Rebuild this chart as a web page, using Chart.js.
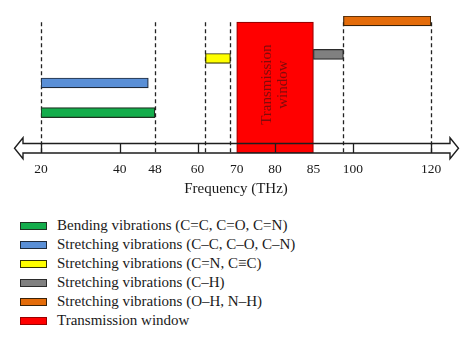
<!DOCTYPE html>
<html>
<head>
<meta charset="utf-8">
<script src="https://cdn.jsdelivr.net/npm/chart.js@4.4.1/dist/chart.umd.min.js"></script>
<style>
  html, body { margin: 0; padding: 0; background: #fff; }
  #wrap { position: relative; width: 474px; height: 346px; overflow: hidden; }
  #c { position: absolute; left: 0; top: 0; }
  #legend { position: absolute; left: 20px; top: 216px; margin: 0; padding: 0; list-style: none;
            font-family: "Liberation Serif", "DejaVu Serif", serif; font-size: 15px; color: #1a1a1a; }
  #legend li { height: 19px; line-height: 19px; display: flex; align-items: center; white-space: nowrap; }
  #legend .sw { display: inline-block; width: 27px; height: 8px; box-sizing: border-box;
                border: 1px solid #2a2a2a; margin-right: 10px; }
</style>
</head>
<body>
<div id="wrap">
  <canvas id="c" width="474" height="205"></canvas>
  <ul id="legend"></ul>
</div>
<script>
// ---------------- data ----------------
const seriesNames = [
  'Bending vibrations (C=C, C=O, C=N)',
  'Stretching vibrations (C\u2013C, C\u2013O, C\u2013N)',
  'Stretching vibrations (C=N, C\u2261C)',
  'Stretching vibrations (C\u2013H)',
  'Stretching vibrations (O\u2013H, N\u2013H)',
  'Transmission window'
];
const rangeStart = [20, 20, 62, 85, 96.4, 70];     // THz
const rangeEnd   = [48, 46.5, 68.4, 96.4, 120, 85]; // THz
const tickLabels = [20, 40, 48, 60, 70, 80, 85, 100, 120]; // THz, labelled ticks
const bandTicks  = [20, 40, 60, 80, 100, 120];             // THz, marks inside the axis band
const guideLines = [20, 48, 62, 68.4, 96.4, 120];          // THz, dashed guides
const windowLabel = ['Transmission', 'window'];
const axisTitle = 'Frequency (THz)';

// ---------------- styles / layout ----------------
const colors  = ['#14ad4c', '#5a8fd6', '#ffff00', '#808080', '#e46c0a', '#ff0000'];
const borders = ['#1f3322', '#1f2a3a', '#333300', '#2b2b2b', '#3a2208', '#9a0000'];
const rowLevel     = [2.95, 5.11, 6.9, 7.2, 9.64, 4.77];   // vertical placement (schematic)
const rowThickness = [10, 10, 10, 10, 10, 131];           // px
// the printed axis is schematic (non-uniform); fraction of axis length at each labelled tick
const tickFractions = [0, 0.2021, 0.292, 0.4016, 0.5018, 0.600, 0.6985, 0.7997, 1];
const SERIF = '"Liberation Serif", "DejaVu Serif", serif';

// ---------------- piecewise (schematic) scale ----------------
class PiecewiseScale extends Chart.LinearScale {
  _frac(value) {
    const v = tickLabels, f = tickFractions;
    if (value <= v[0]) return f[0] + (value - v[0]) / (v[1] - v[0]) * (f[1] - f[0]);
    for (let i = 1; i < v.length; i++) {
      if (value <= v[i]) return f[i - 1] + (value - v[i - 1]) / (v[i] - v[i - 1]) * (f[i] - f[i - 1]);
    }
    const n = v.length - 1;
    return f[n] + (value - v[n]) / (v[n] - v[n - 1]) * (f[n] - f[n - 1]);
  }
  getPixelForValue(value) {
    if (value === null || value === undefined || isNaN(value)) return NaN;
    return this.getPixelForDecimal(this._frac(value));
  }
  getValueForPixel(pixel) {
    const d = this.getDecimalForPixel(pixel);
    const v = tickLabels, f = tickFractions;
    for (let i = 1; i < f.length; i++) {
      if (d <= f[i]) return v[i - 1] + (d - f[i - 1]) / (f[i] - f[i - 1]) * (v[i] - v[i - 1]);
    }
    return v[v.length - 1];
  }
}
PiecewiseScale.id = 'piecewise';
PiecewiseScale.defaults = Chart.LinearScale.defaults;
Chart.register(PiecewiseScale);

// ---------------- decorations ----------------
const decor = {
  id: 'decor',
  beforeDatasetsDraw(chart) {
    const ctx = chart.ctx, xs = chart.scales.x, area = chart.chartArea;
    const red = chart.getDatasetMeta(5).data[0];
    const top = red.y - red.height / 2;
    ctx.save();
    ctx.strokeStyle = '#222';
    ctx.lineWidth = 1.3;
    ctx.setLineDash([4, 3]);
    guideLines.forEach(v => {
      const x = Math.round(xs.getPixelForValue(v)) + 0.5;
      ctx.beginPath(); ctx.moveTo(x, top); ctx.lineTo(x, area.bottom); ctx.stroke();
    });
    ctx.restore();
  },
  afterDatasetsDraw(chart) {
    const ctx = chart.ctx, xs = chart.scales.x, area = chart.chartArea;
    const yBot = area.bottom, yTop = area.bottom - 9.5, yMid = (yTop + yBot) / 2;
    const xL = area.left - 18, tipL = area.left - 26.5;
    const xR = area.right + 19, tipR = area.right + 27.5;
    ctx.save();
    ctx.strokeStyle = '#1e1e1e';
    ctx.lineWidth = 1.4;
    ctx.lineJoin = 'miter';
    // band lines + arrow heads
    ctx.beginPath();
    ctx.moveTo(xL, yTop); ctx.lineTo(xR, yTop);
    ctx.lineTo(xR, yMid - 10.5); ctx.lineTo(tipR, yMid); ctx.lineTo(xR, yMid + 10.5); ctx.lineTo(xR, yBot);
    ctx.lineTo(xL, yBot);
    ctx.lineTo(xL, yMid + 10.5); ctx.lineTo(tipL, yMid); ctx.lineTo(xL, yMid - 10.5); ctx.closePath();
    ctx.stroke();
    // tick marks inside band
    ctx.lineWidth = 1.3;
    bandTicks.forEach(v => {
      const x = Math.round(xs.getPixelForValue(v)) + 0.5;
      ctx.beginPath(); ctx.moveTo(x, yTop); ctx.lineTo(x, yBot); ctx.stroke();
    });
    // label inside the transmission window
    const red = chart.getDatasetMeta(5).data[0];
    const cx = (red.x + red.base) / 2, cy = red.y - 3;
    ctx.translate(cx, cy);
    ctx.rotate(-Math.PI / 2);
    ctx.fillStyle = '#800b0b';
    ctx.font = '15px ' + SERIF;
    ctx.textAlign = 'center';
    ctx.textBaseline = 'middle';
    ctx.fillText(windowLabel[0], 0, -8);
    ctx.fillText(windowLabel[1], 0, 8.5);
    ctx.restore();
  }
};

// ---------------- chart ----------------
const datasets = seriesNames.map((name, i) => ({
  label: name,
  data: [{ x: [rangeStart[i], rangeEnd[i]], y: rowLevel[i] }],
  backgroundColor: colors[i],
  borderColor: borders[i],
  borderWidth: 1.2,
  borderSkipped: false,
  barThickness: rowThickness[i],
  grouped: false
}));

const chart = new Chart(document.getElementById('c'), {
  type: 'bar',
  data: { datasets },
  options: {
    indexAxis: 'y',
    responsive: false,
    animation: false,
    layout: { padding: { left: 41, right: 43, top: 16, bottom: 0 } },
    plugins: { legend: { display: false }, tooltip: { enabled: false } },
    scales: {
      x: {
        type: 'piecewise',
        min: 20, max: 120,
        offset: false,
        grid: { display: false },
        border: { display: false },
        afterBuildTicks: s => { s.ticks = tickLabels.map(v => ({ value: v })); },
        afterFit: s => { s.height = 52; },
        ticks: {
          autoSkip: false, maxRotation: 0, minRotation: 0, padding: 0,
          color: '#1a1a1a', font: { family: SERIF, size: 13.5 },
          callback: v => String(v)
        },
        title: {
          display: true, text: axisTitle, color: '#1a1a1a',
          font: { family: SERIF, size: 15 }, padding: { top: 0, bottom: 7 }
        }
      },
      y: { type: 'linear', min: 0, max: 10, offset: false, display: false }
    }
  },
  plugins: [decor]
});

// ---------------- HTML legend ----------------
const ul = document.getElementById('legend');
chart.data.datasets.forEach(ds => {
  const li = document.createElement('li');
  const sw = document.createElement('span');
  sw.className = 'sw';
  sw.style.background = ds.backgroundColor;
  sw.style.borderColor = ds.borderColor;
  li.appendChild(sw);
  li.appendChild(document.createTextNode(ds.label));
  ul.appendChild(li);
});
</script>
</body>
</html>
